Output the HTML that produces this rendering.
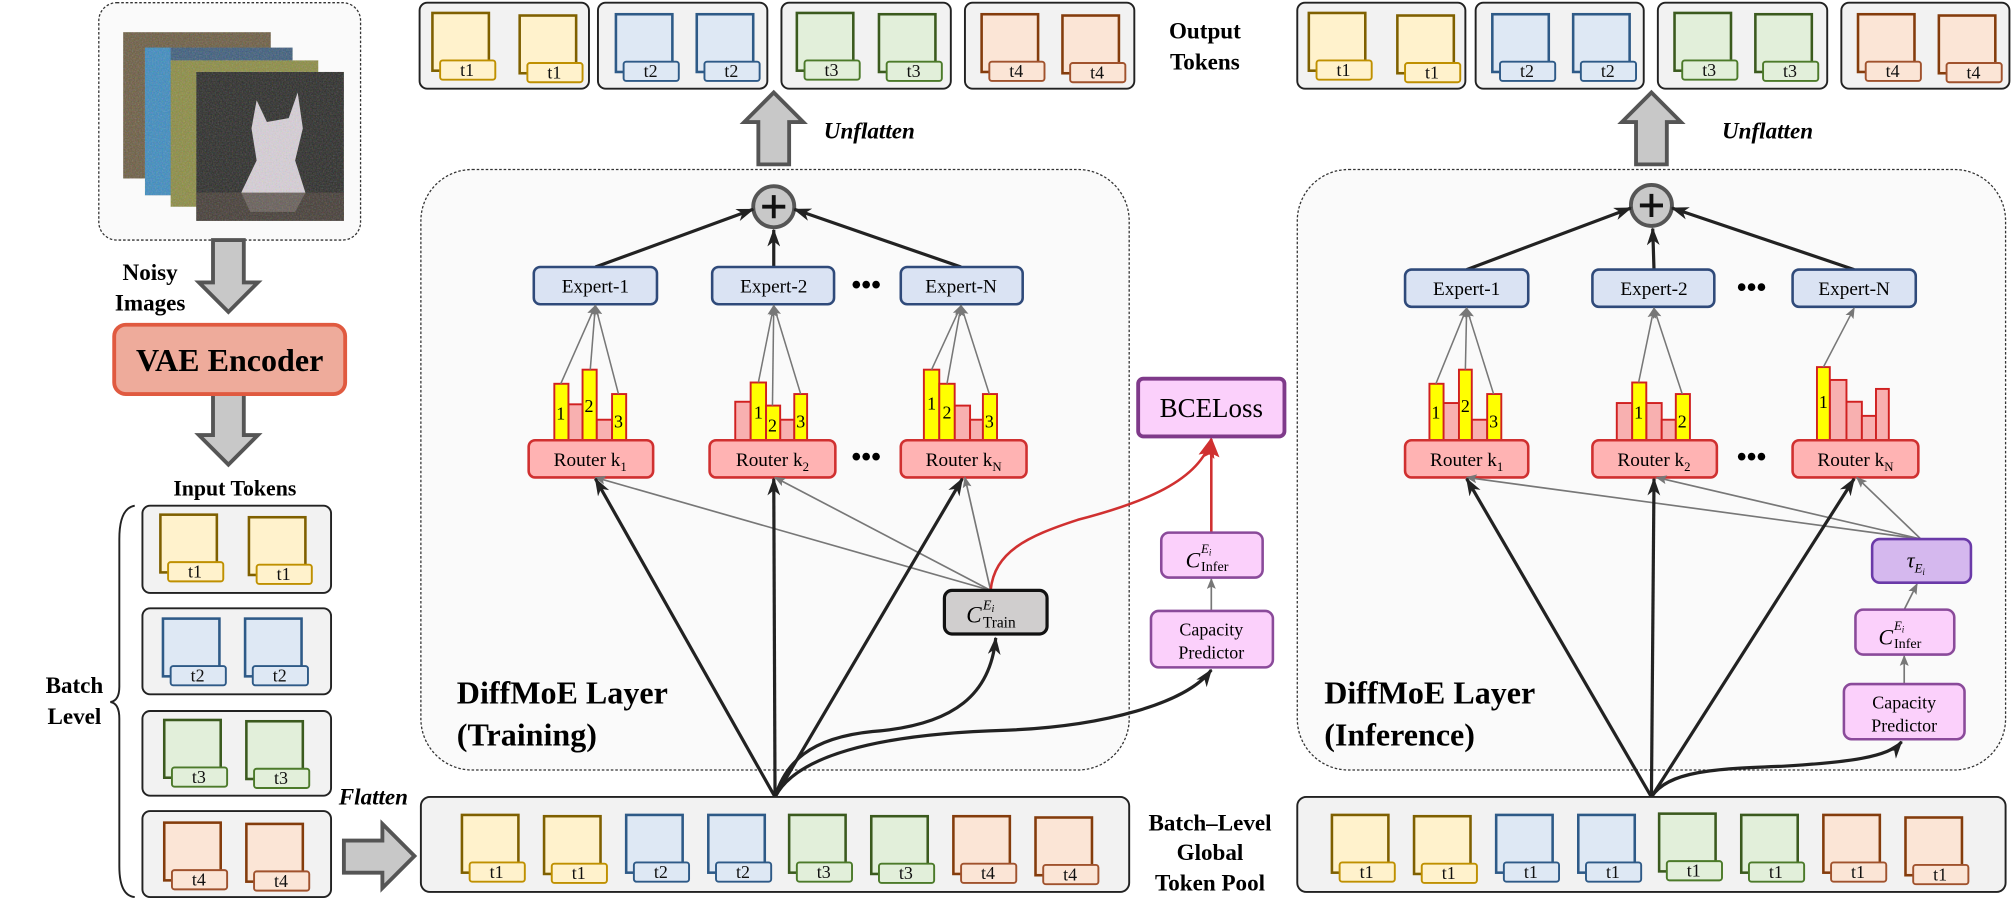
<!DOCTYPE html>
<html><head><meta charset="utf-8"><style>
html,body{margin:0;padding:0;background:#fff;}
svg{display:block}
text{font-family:"Liberation Serif",serif;}
.lbl{font-size:14px;text-anchor:middle;fill:#111}
.b{font-weight:bold}
</style></head><body>
<svg width="2012" height="910" viewBox="0 0 1568 709" xmlns="http://www.w3.org/2000/svg">
<defs>
<filter id="noise" x="0" y="0" width="100%" height="100%">
<feTurbulence type="fractalNoise" baseFrequency="0.9" numOctaves="2" seed="3" result="t"/>
<feColorMatrix type="saturate" values="1.5" in="t"/>
</filter>
<marker id="ab" viewBox="0 0 14 10" refX="13" refY="5" markerWidth="14" markerHeight="10" orient="auto" markerUnits="userSpaceOnUse">
<path d="M0,0 L14,5 L0,10 L4,5 Z" fill="#222"/></marker>
<marker id="ag" viewBox="0 0 10 8" refX="9" refY="4" markerWidth="9" markerHeight="7" orient="auto" markerUnits="userSpaceOnUse">
<path d="M0,0 L10,4 L0,8 L2,4 Z" fill="#777"/></marker>
<marker id="ar" viewBox="0 0 10 8" refX="9" refY="4" markerWidth="16" markerHeight="13" orient="auto" markerUnits="userSpaceOnUse">
<path d="M0,0 L10,4 L0,8 L2,4 Z" fill="#d03030"/></marker>
<g id="ty"><rect x="0" y="0" width="44" height="45" fill="#fff2cc" stroke="#7f6000" stroke-width="2"/><rect x="6" y="37" width="43" height="15" rx="2" fill="#fff2cc" stroke="#bf9000" stroke-width="1.5"/></g>
<g id="tb"><rect x="0" y="0" width="44" height="45" fill="#dee8f4" stroke="#2e5a87" stroke-width="2"/><rect x="6" y="37" width="43" height="15" rx="2" fill="#dee8f4" stroke="#2e5a87" stroke-width="1.5"/></g>
<g id="tg"><rect x="0" y="0" width="44" height="45" fill="#e2efda" stroke="#3b5a1e" stroke-width="2"/><rect x="6" y="37" width="43" height="15" rx="2" fill="#e2efda" stroke="#4c7a2a" stroke-width="1.5"/></g>
<g id="to"><rect x="0" y="0" width="44" height="45" fill="#fbe5d6" stroke="#843c0c" stroke-width="2"/><rect x="6" y="37" width="43" height="15" rx="2" fill="#fbe5d6" stroke="#a0522d" stroke-width="1.5"/></g>
<g id="upArrow"><path d="M-12,56 L-12,23 L-23,23 L0,0 L23,23 L12,23 L12,56 Z" fill="#c8c8c8" stroke="#555" stroke-width="3"/></g>
</defs>

<!-- image box -->
<rect x="77" y="2" width="204" height="185" rx="14" fill="#fafafa" stroke="#333" stroke-width="1" stroke-dasharray="2,1.5"/>
<rect x="96" y="25" width="115" height="114" fill="#6a5a40"/>
<rect x="96" y="25" width="115" height="114" filter="url(#noise)" opacity="0.35"/>
<rect x="113" y="37" width="115" height="115" fill="#3a5a7a"/>
<rect x="113" y="37" width="20" height="115" fill="#3a8ac0"/>
<rect x="113" y="37" width="115" height="115" filter="url(#noise)" opacity="0.35"/>
<rect x="133" y="47" width="115" height="114" fill="#8a8a40"/>
<rect x="133" y="47" width="115" height="114" filter="url(#noise)" opacity="0.35"/>
<rect x="153" y="56" width="115" height="116" fill="#2a2a28"/>
<path d="M200,78 L208,95 L225,92 L232,72 L236,100 L230,125 L238,150 L230,165 L195,165 L188,150 L200,125 L196,100 Z" fill="#d8d0d8"/>
<rect x="153" y="150" width="115" height="22" fill="#4a4038" opacity="0.8"/>
<rect x="153" y="56" width="115" height="116" filter="url(#noise)" opacity="0.3"/>

<text x="117" y="218" font-size="18" class="b" text-anchor="middle">Noisy</text>
<text x="117" y="242" font-size="18" class="b" text-anchor="middle">Images</text>
<g transform="translate(178,243) rotate(180)"><use href="#upArrow"/></g>
<g transform="translate(178,362) rotate(180)"><use href="#upArrow"/></g>
<rect x="89" y="253" width="180" height="54" rx="9" fill="#eeab9b" stroke="#e05a40" stroke-width="3"/>
<text x="179" y="289" font-size="25" class="b" text-anchor="middle">VAE Encoder</text>

<!-- input tokens -->
<text x="183" y="386" font-size="17" class="b" text-anchor="middle">Input Tokens</text>
<path d="M105,394 Q93,396 93,420 L93,535 Q93,546 86,547 Q93,548 93,560 L93,675 Q93,698 105,699" fill="none" stroke="#222" stroke-width="1.5"/>
<text x="58" y="540" font-size="18" class="b" text-anchor="middle">Batch</text>
<text x="58" y="564" font-size="18" class="b" text-anchor="middle">Level</text>
<g stroke="#222" stroke-width="1.5" fill="#f2f2f2">
<rect x="111" y="394" width="147" height="68" rx="6"/>
<rect x="111" y="474" width="147" height="67" rx="6"/>
<rect x="111" y="554" width="147" height="66" rx="6"/>
<rect x="111" y="632" width="147" height="67" rx="6"/>
</g>
<use href="#ty" x="125" y="401"/><use href="#ty" x="194" y="403"/>
<use href="#tb" x="127" y="482"/><use href="#tb" x="191" y="482"/>
<use href="#tg" x="128" y="561"/><use href="#tg" x="192" y="562"/>
<use href="#to" x="128" y="641"/><use href="#to" x="192" y="642"/>
<g class="lbl"><text x="152" y="450">t1</text><text x="221" y="452">t1</text>
<text x="154" y="531">t2</text><text x="218" y="531">t2</text>
<text x="155" y="610">t3</text><text x="219" y="611">t3</text>
<text x="155" y="690">t4</text><text x="219" y="691">t4</text></g>

<text x="291" y="627" font-size="18" class="b" font-style="italic" text-anchor="middle">Flatten</text>
<path d="M268,655 L298,655 L298,642 L323,667 L298,692 L298,680 L268,680 Z" fill="#c8c8c8" stroke="#555" stroke-width="3"/>

<!-- layer boxes -->
<rect x="328" y="132" width="552" height="468" rx="40" fill="#fafafa" stroke="#333" stroke-width="1" stroke-dasharray="2,1.5"/>
<rect x="1011" y="132" width="552" height="468" rx="40" fill="#fafafa" stroke="#333" stroke-width="1" stroke-dasharray="2,1.5"/>
<text x="356" y="548" font-size="25" class="b">DiffMoE Layer</text>
<text x="356" y="581" font-size="25" class="b">(Training)</text>
<text x="1032" y="548" font-size="25" class="b">DiffMoE Layer</text>
<text x="1032" y="581" font-size="25" class="b">(Inference)</text>

<!-- top output tokens -->
<g stroke="#222" stroke-width="1.5" fill="#f2f2f2">
<rect x="327" y="2" width="132" height="67" rx="6"/><rect x="466" y="2" width="132" height="67" rx="6"/>
<rect x="609" y="2" width="132" height="67" rx="6"/><rect x="752" y="2" width="132" height="67" rx="6"/>
<rect x="1011" y="2" width="131" height="67" rx="6"/><rect x="1150" y="2" width="131" height="67" rx="6"/>
<rect x="1292" y="2" width="132" height="67" rx="6"/><rect x="1435" y="2" width="131" height="67" rx="6"/>
</g>
<use href="#ty" x="337" y="10"/><use href="#ty" x="405" y="12"/>
<use href="#tb" x="480" y="11"/><use href="#tb" x="543" y="11"/>
<use href="#tg" x="621" y="10"/><use href="#tg" x="685" y="11"/>
<use href="#to" x="765" y="11"/><use href="#to" x="828" y="12"/>
<use href="#ty" x="1020" y="10"/><use href="#ty" x="1089" y="12"/>
<use href="#tb" x="1163" y="11"/><use href="#tb" x="1226" y="11"/>
<use href="#tg" x="1305" y="10"/><use href="#tg" x="1368" y="11"/>
<use href="#to" x="1448" y="11"/><use href="#to" x="1511" y="12"/>
<g class="lbl">
<text x="364" y="59">t1</text><text x="432" y="61">t1</text><text x="507" y="60">t2</text><text x="570" y="60">t2</text>
<text x="648" y="59">t3</text><text x="712" y="60">t3</text><text x="792" y="60">t4</text><text x="855" y="61">t4</text>
<text x="1047" y="59">t1</text><text x="1116" y="61">t1</text><text x="1190" y="60">t2</text><text x="1253" y="60">t2</text>
<text x="1332" y="59">t3</text><text x="1395" y="60">t3</text><text x="1475" y="60">t4</text><text x="1538" y="61">t4</text>
</g>
<text x="939" y="30" font-size="18" class="b" text-anchor="middle">Output</text>
<text x="939" y="54" font-size="18" class="b" text-anchor="middle">Tokens</text>

<use href="#upArrow" x="603" y="72"/>
<use href="#upArrow" x="1287" y="72"/>
<text x="642" y="108" font-size="18" class="b" font-style="italic">Unflatten</text>
<text x="1342" y="108" font-size="18" class="b" font-style="italic">Unflatten</text>

<!-- plus circles -->
<g stroke-width="3">
<circle cx="603" cy="161" r="16" fill="#c8c8c8" stroke="#555"/>
<circle cx="1287" cy="160" r="16" fill="#c8c8c8" stroke="#555"/>
</g>
<g stroke="#111" stroke-width="3"><path d="M594,161 H612 M603,152 V170"/><path d="M1278,160 H1296 M1287,151 V169"/></g>

<!-- expert arrows -->
<g stroke="#222" stroke-width="2.5" fill="none" marker-end="url(#ab)">
<path d="M464,208 L587,163"/><path d="M603,208 L603,179"/><path d="M749,208 L619,163"/>
<path d="M1143,210 L1271,162"/><path d="M1289,210 L1288,178"/><path d="M1445,210 L1303,162"/>
</g>

<!-- experts -->
<g fill="#dae3f3" stroke="#2f4a7a" stroke-width="2">
<rect x="416" y="208" width="96" height="29" rx="5"/><rect x="555" y="208" width="95" height="29" rx="5"/><rect x="702" y="208" width="95" height="29" rx="5"/>
<rect x="1095" y="210" width="96" height="29" rx="5"/><rect x="1241" y="210" width="95" height="29" rx="5"/><rect x="1397" y="210" width="96" height="29" rx="5"/>
</g>
<g font-size="15" text-anchor="middle">
<text x="464" y="228">Expert-1</text><text x="603" y="228">Expert-2</text><text x="749" y="228">Expert-N</text>
<text x="1143" y="230">Expert-1</text><text x="1289" y="230">Expert-2</text><text x="1445" y="230">Expert-N</text>
</g>
<g font-size="22" font-weight="bold" text-anchor="middle">
<text x="675" y="229">•••</text><text x="1365" y="231">•••</text><text x="675" y="363">•••</text><text x="1365" y="363">•••</text>
</g>

<!-- bars -->
<g stroke="#d02020" stroke-width="1.5">
<rect x="443" y="315" width="11" height="28" fill="#f8b0b0"/><rect x="465" y="327" width="12" height="16" fill="#f8b0b0"/>
<rect x="432" y="299" width="11" height="44" fill="#ffff00"/><rect x="454" y="288" width="11" height="55" fill="#ffff00"/><rect x="477" y="307" width="11" height="36" fill="#ffff00"/>
<rect x="573" y="313" width="12" height="30" fill="#f8b0b0"/><rect x="608" y="327" width="11" height="16" fill="#f8b0b0"/>
<rect x="585" y="298" width="12" height="45" fill="#ffff00"/><rect x="597" y="316" width="11" height="27" fill="#ffff00"/><rect x="619" y="307" width="10" height="36" fill="#ffff00"/>
<rect x="744" y="316" width="12" height="27" fill="#f8b0b0"/><rect x="756" y="327" width="10" height="16" fill="#f8b0b0"/>
<rect x="720" y="288" width="12" height="55" fill="#ffff00"/><rect x="732" y="299" width="12" height="44" fill="#ffff00"/><rect x="766" y="307" width="11" height="36" fill="#ffff00"/>
<rect x="1125" y="314" width="12" height="29" fill="#f8b0b0"/><rect x="1147" y="327" width="12" height="16" fill="#f8b0b0"/>
<rect x="1114" y="299" width="11" height="44" fill="#ffff00"/><rect x="1137" y="288" width="10" height="55" fill="#ffff00"/><rect x="1159" y="307" width="11" height="36" fill="#ffff00"/>
<rect x="1260" y="314" width="12" height="29" fill="#f8b0b0"/><rect x="1283" y="314" width="12" height="29" fill="#f8b0b0"/><rect x="1295" y="327" width="11" height="16" fill="#f8b0b0"/>
<rect x="1272" y="298" width="11" height="45" fill="#ffff00"/><rect x="1306" y="307" width="11" height="36" fill="#ffff00"/>
<rect x="1426" y="296" width="13" height="47" fill="#f8b0b0"/><rect x="1439" y="313" width="12" height="30" fill="#f8b0b0"/><rect x="1451" y="324" width="11" height="19" fill="#f8b0b0"/><rect x="1462" y="303" width="10" height="40" fill="#f8b0b0"/>
<rect x="1416" y="286" width="10" height="57" fill="#ffff00"/>
</g>
<g font-size="14" text-anchor="middle">
<text x="437" y="327">1</text><text x="459" y="321">2</text><text x="482" y="333">3</text>
<text x="591" y="326">1</text><text x="602" y="336">2</text><text x="624" y="333">3</text>
<text x="726" y="319">1</text><text x="738" y="326">2</text><text x="771" y="333">3</text>
<text x="1119" y="326">1</text><text x="1142" y="321">2</text><text x="1164" y="333">3</text>
<text x="1277" y="326">1</text><text x="1311" y="333">2</text>
<text x="1421" y="318">1</text>
</g>

<!-- thin bar->expert arrows -->
<g stroke="#777" stroke-width="1.2" fill="none" marker-end="url(#ag)">
<path d="M437,299 L464,238"/><path d="M460,288 L464,238"/><path d="M482,307 L464,238"/>
<path d="M591,298 L603,238"/><path d="M602,316 L603,238"/><path d="M624,307 L603,238"/>
<path d="M726,288 L749,238"/><path d="M738,299 L749,238"/><path d="M771,307 L749,238"/>
<path d="M1119,299 L1143,240"/><path d="M1142,288 L1143,240"/><path d="M1164,307 L1143,240"/>
<path d="M1277,298 L1289,240"/><path d="M1311,307 L1289,240"/>
<path d="M1421,286 L1445,240"/>
</g>

<!-- routers -->
<g fill="#ffb3b3" stroke="#d03030" stroke-width="2">
<rect x="412" y="343" width="97" height="29" rx="5"/><rect x="553" y="343" width="98" height="29" rx="5"/><rect x="702" y="343" width="98" height="29" rx="5"/>
<rect x="1095" y="343" width="96" height="29" rx="5"/><rect x="1241" y="343" width="97" height="29" rx="5"/><rect x="1397" y="343" width="98" height="29" rx="5"/>
</g>
<g font-size="15" text-anchor="middle">
<text x="460" y="363">Router k<tspan font-size="10" dy="4">1</tspan></text>
<text x="602" y="363">Router k<tspan font-size="10" dy="4">2</tspan></text>
<text x="751" y="363">Router k<tspan font-size="10" dy="4">N</tspan></text>
<text x="1143" y="363">Router k<tspan font-size="10" dy="4">1</tspan></text>
<text x="1289" y="363">Router k<tspan font-size="10" dy="4">2</tspan></text>
<text x="1446" y="363">Router k<tspan font-size="10" dy="4">N</tspan></text>
</g>

<!-- thin gray to routers -->
<g stroke="#777" stroke-width="1.3" fill="none" marker-end="url(#ag)">
<path d="M772,460 L464,372"/><path d="M772,460 L604,372"/><path d="M772,460 L752,372"/>
<path d="M1497,420 L1143,372"/><path d="M1497,420 L1291,372"/><path d="M1497,420 L1447,372"/>
<path d="M944,476 L944,451"/><path d="M1484,533 L1484,511"/><path d="M1484,475 L1494,455"/>
</g>

<!-- red -->
<g stroke="#d03030" stroke-width="2" fill="none">
<path d="M772,460 C775,430 800,418 840,405 C890,392 935,375 944,342" marker-end="url(#ar)"/>
<path d="M944,415 L944,342" marker-end="url(#ar)"/>
</g>

<!-- thick black from pools -->
<g stroke="#222" stroke-width="2.5" fill="none" marker-end="url(#ab)">
<path d="M604,621 L464,373"/><path d="M604,621 L603,373"/><path d="M604,621 L750,373"/>
<path d="M604,621 C612,595 630,575 680,570 C745,565 772,540 776,497"/>
<path d="M604,621 C620,590 680,572 784,569 C860,566 925,548 944,522"/>
<path d="M1287,621 L1143,373"/><path d="M1287,621 L1289,373"/><path d="M1287,621 L1445,373"/>
<path d="M1287,621 C1300,600 1340,599 1390,597 C1440,594 1472,590 1482,578"/>
</g>

<!-- C train -->
<rect x="736" y="460" width="80" height="34" rx="6" fill="#d0cece" stroke="#111" stroke-width="2.5"/>
<text x="753" y="485" font-size="18" font-style="italic">C</text>
<text x="766" y="475" font-size="11" font-style="italic">E<tspan font-size="8" dy="2">i</tspan></text>
<text x="766" y="489" font-size="12">Train</text>

<!-- BCE & predictors -->
<rect x="887" y="295" width="114" height="45" rx="4" fill="#fbd0fb" stroke="#7f3a8a" stroke-width="3"/>
<text x="944" y="325" font-size="21" text-anchor="middle">BCELoss</text>
<g fill="#fbd0fb" stroke="#8a4a9a" stroke-width="2">
<rect x="905" y="415" width="79" height="35" rx="6"/><rect x="897" y="476" width="95" height="44" rx="6"/>
<rect x="1446" y="475" width="77" height="35" rx="6"/><rect x="1437" y="533" width="94" height="43" rx="6"/>
</g>
<rect x="1459" y="420" width="77" height="34" rx="6" fill="#d5b8ee" stroke="#6a3aa8" stroke-width="2"/>
<g font-size="14" text-anchor="middle">
<text x="944" y="495">Capacity</text><text x="944" y="513">Predictor</text>
<text x="1484" y="552">Capacity</text><text x="1484" y="570">Predictor</text>
</g>
<text x="924" y="442" font-size="17" font-style="italic">C</text>
<text x="936" y="431" font-size="10" font-style="italic">E<tspan font-size="7" dy="2">i</tspan></text>
<text x="936" y="445" font-size="11">Infer</text>
<text x="1464" y="502" font-size="17" font-style="italic">C</text>
<text x="1476" y="491" font-size="10" font-style="italic">E<tspan font-size="7" dy="2">i</tspan></text>
<text x="1476" y="505" font-size="11">Infer</text>
<text x="1486" y="442" font-size="17" font-style="italic">τ<tspan font-size="10" dy="4">E</tspan><tspan font-size="7" dy="2">i</tspan></text>

<!-- pools -->
<rect x="328" y="621" width="552" height="74" rx="7" fill="#f2f2f2" stroke="#222" stroke-width="1.5"/>
<rect x="1011" y="621" width="552" height="74" rx="7" fill="#f2f2f2" stroke="#222" stroke-width="1.5"/>
<use href="#ty" x="360" y="635"/><use href="#ty" x="424" y="636"/><use href="#tb" x="488" y="635"/><use href="#tb" x="552" y="635"/>
<use href="#tg" x="615" y="635"/><use href="#tg" x="679" y="636"/><use href="#to" x="743" y="636"/><use href="#to" x="807" y="637"/>
<use href="#ty" x="1038" y="635"/><use href="#ty" x="1102" y="636"/><use href="#tb" x="1166" y="635"/><use href="#tb" x="1230" y="635"/>
<use href="#tg" x="1293" y="634"/><use href="#tg" x="1357" y="635"/><use href="#to" x="1421" y="635"/><use href="#to" x="1485" y="637"/>
<g class="lbl">
<text x="387" y="684">t1</text><text x="451" y="685">t1</text><text x="515" y="684">t2</text><text x="579" y="684">t2</text>
<text x="642" y="684">t3</text><text x="706" y="685">t3</text><text x="770" y="685">t4</text><text x="834" y="686">t4</text>
<text x="1065" y="684">t1</text><text x="1129" y="685">t1</text><text x="1193" y="684">t1</text><text x="1257" y="684">t1</text>
<text x="1320" y="683">t1</text><text x="1384" y="684">t1</text><text x="1448" y="684">t1</text><text x="1512" y="686">t1</text>
</g>
<g font-size="18" class="b" text-anchor="middle">
<text x="943" y="647">Batch–Level</text><text x="943" y="670">Global</text><text x="943" y="694">Token Pool</text>
</g>
</svg>
</body></html>
